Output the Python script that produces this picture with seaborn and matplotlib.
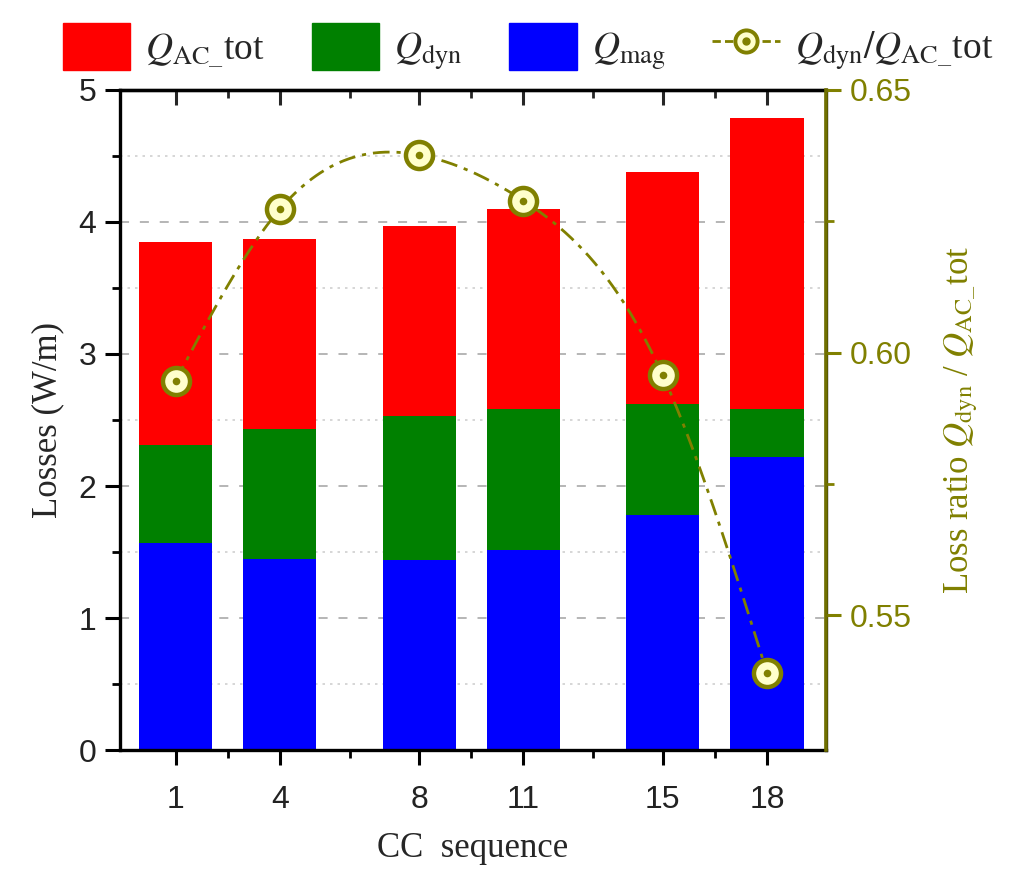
import numpy as np
import pandas as pd
import seaborn as sns
import matplotlib.pyplot as plt
from matplotlib.lines import Line2D
from matplotlib.patches import Patch
from matplotlib.legend_handler import HandlerTuple
from matplotlib.ticker import MultipleLocator, FixedLocator

cc_sequence = [1, 4, 8, 11, 15, 18]
q_ac_tot = [3.85, 3.87, 3.97, 4.10, 4.38, 4.79]
q_dyn = [2.31, 2.43, 2.53, 2.58, 2.62, 2.58]
q_mag = [1.57, 1.45, 1.44, 1.52, 1.78, 2.22]
ratio = [0.5946, 0.6273, 0.6376, 0.6289, 0.5957, 0.5391]

OLIVE = '#808000'


def natural_spline(x, y, xs):
    # smooth curve through the points, like the original software draws it
    x = np.asarray(x, float)
    y = np.asarray(y, float)
    n = len(x)
    h = np.diff(x)
    A = np.zeros((n, n))
    b = np.zeros(n)
    A[0, 0] = A[-1, -1] = 1
    for i in range(1, n - 1):
        A[i, i - 1] = h[i - 1]
        A[i, i] = 2 * (h[i - 1] + h[i])
        A[i, i + 1] = h[i]
        b[i] = 6 * ((y[i + 1] - y[i]) / h[i] - (y[i] - y[i - 1]) / h[i - 1])
    m = np.linalg.solve(A, b)
    idx = np.clip(np.searchsorted(x, xs) - 1, 0, n - 2)
    x0, x1 = x[idx], x[idx + 1]
    hh = x1 - x0
    t0, t1 = x1 - xs, xs - x0
    return (m[idx] * t0 ** 3 / (6 * hh) + m[idx + 1] * t1 ** 3 / (6 * hh)
            + (y[idx] / hh - m[idx] * hh / 6) * t0
            + (y[idx + 1] / hh - m[idx + 1] * hh / 6) * t1)


sns.set_style("ticks")
plt.rcParams['font.family'] = ['Liberation Serif', 'DejaVu Serif']
plt.rcParams['mathtext.fontset'] = 'stix'

df = pd.DataFrame({'cc': cc_sequence, 'tot': q_ac_tot, 'dyn': q_dyn,
                   'mag': q_mag, 'ratio': ratio})

fig = plt.figure(figsize=(10.25, 8.89), dpi=100)
ax = fig.add_axes([0.117, 0.156, 0.689, 0.743])

bar_w = 2.1 / 3
for col, color in [('tot', '#ff0000'), ('dyn', '#008000'), ('mag', '#0000ff')]:
    sns.barplot(data=df, x='cc', y=col, native_scale=True, color=color,
                saturation=1, width=bar_w, linewidth=0, ax=ax, zorder=2)

ax.set_xlim(-0.6, 19.7)
ax.set_ylim(0, 5)
ax.xaxis.set_major_locator(FixedLocator(cc_sequence))
mids = [(a + b) / 2 for a, b in zip(cc_sequence[:-1], cc_sequence[1:])]
ax.xaxis.set_minor_locator(FixedLocator(mids))
ax.set_xticklabels([str(v) for v in cc_sequence])
ax.yaxis.set_major_locator(MultipleLocator(1))
ax.yaxis.set_minor_locator(MultipleLocator(0.5))
ax.set_axisbelow(True)
ax.grid(axis='y', which='major', color='#b0b0b0', ls=(0, (5, 6)), lw=1.3)
ax.grid(axis='y', which='minor', color='#d0d0d0', ls=(0, (1.5, 3)), lw=1.2)
ax.grid(axis='x', visible=False)

for s in ax.spines.values():
    s.set_linewidth(2.4)
    s.set_color('black')
ax.tick_params(axis='both', which='major', direction='out', length=11,
               width=2.2, labelsize=23, colors='black', pad=6)
ax.tick_params(axis='both', which='minor', direction='out', length=6,
               width=2.0, colors='black')
ax.tick_params(axis='x', pad=14)
for lab in ax.get_xticklabels() + ax.get_yticklabels():
    lab.set_fontfamily('Liberation Sans')
    lab.set_color('#222222')

top = ax.secondary_xaxis('top')
top.xaxis.set_major_locator(FixedLocator(cc_sequence))
top.xaxis.set_minor_locator(FixedLocator(mids))
top.tick_params(which='major', direction='in', length=11, width=2.2,
                labeltop=False)
top.tick_params(which='minor', direction='in', length=6, width=2.0)
top.spines['top'].set_linewidth(2.4)

ax.set_xlabel('CC  sequence', fontsize=25, labelpad=12)
ax.set_ylabel('Losses (W/m)', fontsize=25, labelpad=10)

ax2 = ax.twinx()
ax2.set_ylim(0.5243, 0.65)
ax2.yaxis.set_major_locator(MultipleLocator(0.05))
ax2.yaxis.set_minor_locator(FixedLocator([0.575, 0.625]))
ax2.yaxis.set_major_formatter(plt.FormatStrFormatter('%.2f'))
for name, s in ax2.spines.items():
    s.set_visible(name == 'right')
ax2.spines['right'].set_color('#707000')
ax2.spines['right'].set_linewidth(2.6)
ax2.tick_params(axis='y', which='major', direction='out', length=11,
                width=2.2, colors=OLIVE, labelsize=23, pad=6)
ax2.tick_params(axis='y', which='minor', direction='out', length=6,
                width=2.0, colors=OLIVE)
for lab in ax2.get_yticklabels():
    lab.set_fontfamily('Liberation Sans')
ax2.grid(False)
ax2.set_ylabel(r'Loss ratio $Q_{\rm dyn}$ / $Q_{\rm AC\_}$tot', color=OLIVE,
               fontsize=25, labelpad=22)

xs = np.linspace(cc_sequence[0], cc_sequence[-1], 300)
ys = natural_spline(cc_sequence, ratio, xs)
ax2.plot(xs, ys, color=OLIVE, lw=2.0, ls=(0, (6, 2.5, 1.5, 2.5)), zorder=3)
sns.scatterplot(data=df, x='cc', y='ratio', ax=ax2, s=380, marker='o',
                color='#ffffcc', edgecolor=OLIVE, linewidth=3.2, zorder=4)
sns.scatterplot(data=df, x='cc', y='ratio', ax=ax2, s=30, marker='o',
                color=OLIVE, edgecolor=OLIVE, linewidth=0, zorder=5)
ax2.set_xlabel('')

h_line = Line2D([], [], color=OLIVE, lw=2.0, ls=(0, (3, 1.5)), marker='o',
                ms=16, mfc='#ffffcc', mec=OLIVE, mew=2.8)
h_dot = Line2D([], [], ls='none', marker='o', ms=5, color=OLIVE)
handles = [Patch(color='#ff0000'), Patch(color='#008000'),
           Patch(color='#0000ff'), (h_line, h_dot)]
labels = [r'$Q_{\rm AC\_}$tot', r'$Q_{\rm dyn}$', r'$Q_{\rm mag}$',
          r'$Q_{\rm dyn}/Q_{\rm AC\_}$tot']
fig.legend(handles, labels, loc='upper center', bbox_to_anchor=(0.515, 1.012),
           ncol=4, frameon=False, fontsize=27, handlelength=1.8,
           handleheight=1.55, handletextpad=0.4, columnspacing=1.25,
           handler_map={tuple: HandlerTuple(ndivide=1)})

fig.savefig('out.png', dpi=100)
